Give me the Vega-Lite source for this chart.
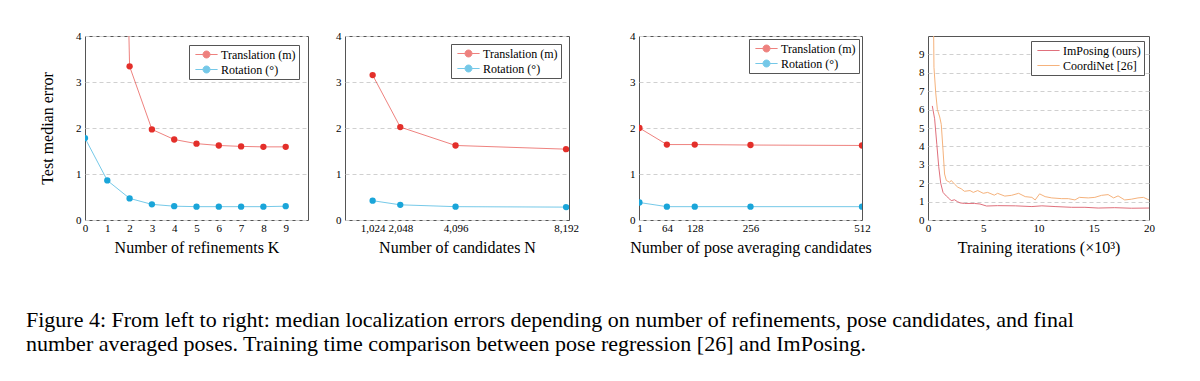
{
  "$schema": "https://vega.github.io/schema/vega-lite/v6.json",
  "padding": {"left": 26, "top": 29, "right": 5, "bottom": 5},
  "background": "white",
  "config": {
    "font": "Liberation Serif",
    "view": {"stroke": "#555", "strokeWidth": 1},
    "axis": {
      "labelFont": "Liberation Serif", "labelFontSize": 11, "labelColor": "black",
      "titleFont": "Liberation Serif", "titleFontSize": 16, "titleFontWeight": "normal", "titleColor": "black",
      "domain": false, "ticks": false, "labelFlush": false, "labelOverlap": false,
      "gridColor": "#d0d0d0", "gridDash": [4, 3]
    },
    "axisX": {"grid": false, "labelPadding": 2, "titlePadding": 6},
    "axisY": {"labelPadding": 4},
    "legend": {
      "orient": "top-right", "offset": 8,
      "labelFont": "Liberation Serif", "labelFontSize": 12, "labelColor": "black",
      "fillColor": "white", "strokeColor": "#555", "padding": 3, "rowPadding": 2,
      "symbolSize": 144, "symbolStrokeWidth": 1, "symbolOffset": 8, "labelOffset": 8,
      "symbolType": "M-1.85,0H-0.58M0.58,0H1.85M-0.58,0A0.58,0.58 0 1,0 0.58,0A0.58,0.58 0 1,0 -0.58,0Z"
    },
    "concat": {"spacing": 25}
  },
  "datasets": {
    "p1": [
      {"k": 1, "s": "Translation (m)", "v": 25},
      {"k": 2, "s": "Translation (m)", "v": 3.34},
      {"k": 3, "s": "Translation (m)", "v": 1.97},
      {"k": 4, "s": "Translation (m)", "v": 1.75},
      {"k": 5, "s": "Translation (m)", "v": 1.66},
      {"k": 6, "s": "Translation (m)", "v": 1.62},
      {"k": 7, "s": "Translation (m)", "v": 1.60},
      {"k": 8, "s": "Translation (m)", "v": 1.59},
      {"k": 9, "s": "Translation (m)", "v": 1.59},
      {"k": 0, "s": "Rotation (°)", "v": 1.78},
      {"k": 1, "s": "Rotation (°)", "v": 0.86},
      {"k": 2, "s": "Rotation (°)", "v": 0.47},
      {"k": 3, "s": "Rotation (°)", "v": 0.34},
      {"k": 4, "s": "Rotation (°)", "v": 0.30},
      {"k": 5, "s": "Rotation (°)", "v": 0.29},
      {"k": 6, "s": "Rotation (°)", "v": 0.29},
      {"k": 7, "s": "Rotation (°)", "v": 0.29},
      {"k": 8, "s": "Rotation (°)", "v": 0.29},
      {"k": 9, "s": "Rotation (°)", "v": 0.30}
    ],
    "p2": [
      {"n": 1024, "s": "Translation (m)", "v": 3.15},
      {"n": 2048, "s": "Translation (m)", "v": 2.02},
      {"n": 4096, "s": "Translation (m)", "v": 1.62},
      {"n": 8192, "s": "Translation (m)", "v": 1.54},
      {"n": 1024, "s": "Rotation (°)", "v": 0.42},
      {"n": 2048, "s": "Rotation (°)", "v": 0.33},
      {"n": 4096, "s": "Rotation (°)", "v": 0.29},
      {"n": 8192, "s": "Rotation (°)", "v": 0.28}
    ],
    "p3": [
      {"n": 1, "s": "Translation (m)", "v": 2.0},
      {"n": 64, "s": "Translation (m)", "v": 1.64},
      {"n": 128, "s": "Translation (m)", "v": 1.64},
      {"n": 256, "s": "Translation (m)", "v": 1.63},
      {"n": 512, "s": "Translation (m)", "v": 1.62},
      {"n": 1, "s": "Rotation (°)", "v": 0.38},
      {"n": 64, "s": "Rotation (°)", "v": 0.29},
      {"n": 128, "s": "Rotation (°)", "v": 0.29},
      {"n": 256, "s": "Rotation (°)", "v": 0.29},
      {"n": 512, "s": "Rotation (°)", "v": 0.29}
    ],
    "p4": [
      {"it": 0.39, "s": "ImPosing (ours)", "v": 6.2},
      {"it": 0.6, "s": "ImPosing (ours)", "v": 5.5},
      {"it": 0.8, "s": "ImPosing (ours)", "v": 4.1},
      {"it": 0.97, "s": "ImPosing (ours)", "v": 2.9},
      {"it": 1.15, "s": "ImPosing (ours)", "v": 2.0},
      {"it": 1.36, "s": "ImPosing (ours)", "v": 1.5},
      {"it": 1.66, "s": "ImPosing (ours)", "v": 1.3},
      {"it": 1.96, "s": "ImPosing (ours)", "v": 1.14},
      {"it": 2.1, "s": "ImPosing (ours)", "v": 1.05},
      {"it": 2.4, "s": "ImPosing (ours)", "v": 1.1},
      {"it": 2.66, "s": "ImPosing (ours)", "v": 1.0},
      {"it": 2.9, "s": "ImPosing (ours)", "v": 0.93},
      {"it": 3.3, "s": "ImPosing (ours)", "v": 0.9},
      {"it": 4.2, "s": "ImPosing (ours)", "v": 0.9},
      {"it": 4.7, "s": "ImPosing (ours)", "v": 0.87},
      {"it": 5.3, "s": "ImPosing (ours)", "v": 0.76},
      {"it": 6.3, "s": "ImPosing (ours)", "v": 0.78},
      {"it": 7.9, "s": "ImPosing (ours)", "v": 0.77},
      {"it": 9.4, "s": "ImPosing (ours)", "v": 0.73},
      {"it": 10.3, "s": "ImPosing (ours)", "v": 0.77},
      {"it": 11.5, "s": "ImPosing (ours)", "v": 0.73},
      {"it": 13.0, "s": "ImPosing (ours)", "v": 0.69},
      {"it": 14.2, "s": "ImPosing (ours)", "v": 0.69},
      {"it": 15.4, "s": "ImPosing (ours)", "v": 0.65},
      {"it": 16.9, "s": "ImPosing (ours)", "v": 0.67},
      {"it": 18.4, "s": "ImPosing (ours)", "v": 0.64},
      {"it": 20.0, "s": "ImPosing (ours)", "v": 0.65},
      {"it": 0.45, "s": "CoordiNet [26]", "v": 14},
      {"it": 0.54, "s": "CoordiNet [26]", "v": 8.3},
      {"it": 0.7, "s": "CoordiNet [26]", "v": 6.9},
      {"it": 0.85, "s": "CoordiNet [26]", "v": 6.0},
      {"it": 1.06, "s": "CoordiNet [26]", "v": 5.6},
      {"it": 1.2, "s": "CoordiNet [26]", "v": 5.2},
      {"it": 1.36, "s": "CoordiNet [26]", "v": 3.8},
      {"it": 1.5, "s": "CoordiNet [26]", "v": 2.5},
      {"it": 1.66, "s": "CoordiNet [26]", "v": 2.15},
      {"it": 1.96, "s": "CoordiNet [26]", "v": 2.05},
      {"it": 2.1, "s": "CoordiNet [26]", "v": 2.15},
      {"it": 2.4, "s": "CoordiNet [26]", "v": 1.95},
      {"it": 2.7, "s": "CoordiNet [26]", "v": 1.78},
      {"it": 3.0, "s": "CoordiNet [26]", "v": 1.7},
      {"it": 3.3, "s": "CoordiNet [26]", "v": 1.56},
      {"it": 3.8, "s": "CoordiNet [26]", "v": 1.6},
      {"it": 4.1, "s": "CoordiNet [26]", "v": 1.5},
      {"it": 4.5, "s": "CoordiNet [26]", "v": 1.6},
      {"it": 5.0, "s": "CoordiNet [26]", "v": 1.45},
      {"it": 5.4, "s": "CoordiNet [26]", "v": 1.5},
      {"it": 6.0, "s": "CoordiNet [26]", "v": 1.35},
      {"it": 6.3, "s": "CoordiNet [26]", "v": 1.45},
      {"it": 6.95, "s": "CoordiNet [26]", "v": 1.3},
      {"it": 7.55, "s": "CoordiNet [26]", "v": 1.34},
      {"it": 8.2, "s": "CoordiNet [26]", "v": 1.45},
      {"it": 8.8, "s": "CoordiNet [26]", "v": 1.27},
      {"it": 9.4, "s": "CoordiNet [26]", "v": 1.23},
      {"it": 9.7, "s": "CoordiNet [26]", "v": 1.09},
      {"it": 10.1, "s": "CoordiNet [26]", "v": 1.42},
      {"it": 10.6, "s": "CoordiNet [26]", "v": 1.27},
      {"it": 11.2, "s": "CoordiNet [26]", "v": 1.2},
      {"it": 12.1, "s": "CoordiNet [26]", "v": 1.16},
      {"it": 12.7, "s": "CoordiNet [26]", "v": 1.16},
      {"it": 13.3, "s": "CoordiNet [26]", "v": 1.09},
      {"it": 13.7, "s": "CoordiNet [26]", "v": 1.23},
      {"it": 14.5, "s": "CoordiNet [26]", "v": 1.2},
      {"it": 15.1, "s": "CoordiNet [26]", "v": 1.23},
      {"it": 15.7, "s": "CoordiNet [26]", "v": 1.34},
      {"it": 16.3, "s": "CoordiNet [26]", "v": 1.38},
      {"it": 16.8, "s": "CoordiNet [26]", "v": 1.2},
      {"it": 17.2, "s": "CoordiNet [26]", "v": 1.31},
      {"it": 17.8, "s": "CoordiNet [26]", "v": 1.09},
      {"it": 18.4, "s": "CoordiNet [26]", "v": 1.13},
      {"it": 19.0, "s": "CoordiNet [26]", "v": 1.2},
      {"it": 19.5, "s": "CoordiNet [26]", "v": 1.23},
      {"it": 20.0, "s": "CoordiNet [26]", "v": 1.09}
    ]
  },
  "title": {
    "text": [
      "Figure 4:  From left to right: median localization errors depending on number of refinements, pose candidates, and final",
      "number averaged poses. Training time comparison between pose regression [26] and ImPosing."
    ],
    "orient": "bottom", "anchor": "start", "frame": "group",
    "font": "Liberation Serif", "fontSize": 22, "fontWeight": "normal", "color": "black",
    "lineHeight": 24, "offset": 54, "dx": -59
  },
  "resolve": {
    "scale": {"x": "independent", "y": "independent", "color": "independent"},
    "legend": {"color": "independent"}
  },
  "hconcat": [
    {
      "width": 223, "height": 184,
      "data": {"name": "p1"},
      "encoding": {
        "x": {"field": "k", "type": "quantitative", "scale": {"domain": [0, 10]},
              "axis": {"values": [0, 1, 2, 3, 4, 5, 6, 7, 8, 9], "title": "Number of refinements K"}},
        "y": {"field": "v", "type": "quantitative", "scale": {"domain": [0, 4]},
              "axis": {"values": [0, 1, 2, 3, 4], "format": "d", "title": "Test median error", "titlePadding": 20}},
        "color": {"field": "s", "type": "nominal",
                  "scale": {"domain": ["Translation (m)", "Rotation (°)"], "range": ["#e32f2a", "#1aa5d9"]},
                  "legend": {"title": null, "offset": 9}}
      },
      "layer": [
        {"mark": {"type": "line", "clip": true, "strokeWidth": 1, "opacity": 0.6}},
        {"mark": {"type": "point", "filled": true, "clip": true, "size": 40, "opacity": 1}}
      ]
    },
    {
      "width": 224, "height": 184,
      "data": {"name": "p2"},
      "encoding": {
        "x": {"field": "n", "type": "quantitative", "scale": {"domain": [0, 8300]},
              "axis": {"values": [1024, 2048, 4096, 8192], "format": ",d", "title": "Number of candidates N"}},
        "y": {"field": "v", "type": "quantitative", "scale": {"domain": [0, 4]},
              "axis": {"values": [0, 1, 2, 3, 4], "format": "d", "title": null, "minExtent": 10}},
        "color": {"field": "s", "type": "nominal",
                  "scale": {"domain": ["Translation (m)", "Rotation (°)"], "range": ["#e32f2a", "#1aa5d9"]},
                  "legend": {"title": null, "offset": 8}}
      },
      "layer": [
        {"mark": {"type": "line", "clip": true, "strokeWidth": 1, "opacity": 0.6}},
        {"mark": {"type": "point", "filled": true, "clip": true, "size": 40, "opacity": 1}}
      ]
    },
    {
      "width": 223, "height": 184,
      "data": {"name": "p3"},
      "encoding": {
        "x": {"field": "n", "type": "quantitative", "scale": {"domain": [0, 512]},
              "axis": {"values": [1, 64, 128, 256, 512], "format": "d", "title": "Number of pose averaging candidates"}},
        "y": {"field": "v", "type": "quantitative", "scale": {"domain": [0, 4]},
              "axis": {"values": [0, 1, 2, 3, 4], "format": "d", "title": null, "minExtent": 34.5}},
        "color": {"field": "s", "type": "nominal",
                  "scale": {"domain": ["Translation (m)", "Rotation (°)"], "range": ["#e32f2a", "#1aa5d9"]},
                  "legend": {"title": null, "offset": 3}}
      },
      "layer": [
        {"mark": {"type": "line", "clip": true, "strokeWidth": 1, "opacity": 0.6}},
        {"mark": {"type": "point", "filled": true, "clip": true, "size": 40, "opacity": 1}}
      ]
    },
    {
      "width": 221, "height": 184,
      "data": {"name": "p4"},
      "encoding": {
        "x": {"field": "it", "type": "quantitative", "scale": {"domain": [0, 20]},
              "axis": {"values": [0, 5, 10, 15, 20], "format": "d", "title": "Training iterations (×10³)"}},
        "y": {"field": "v", "type": "quantitative", "scale": {"domain": [0, 10]},
              "axis": {"values": [0, 1, 2, 3, 4, 5, 6, 7, 8, 9], "format": "d", "title": null, "minExtent": 30.5}},
        "color": {"field": "s", "type": "nominal",
                  "scale": {"domain": ["ImPosing (ours)", "CoordiNet [26]"], "range": ["#e0707c", "#f5b27c"]},
                  "legend": {"title": null, "offset": 5, "symbolType": "M-1.85,0H1.85", "symbolSize": 144, "symbolStrokeWidth": 1}}
      },
      "mark": {"type": "line", "clip": true, "strokeWidth": 1}
    }
  ]
}
